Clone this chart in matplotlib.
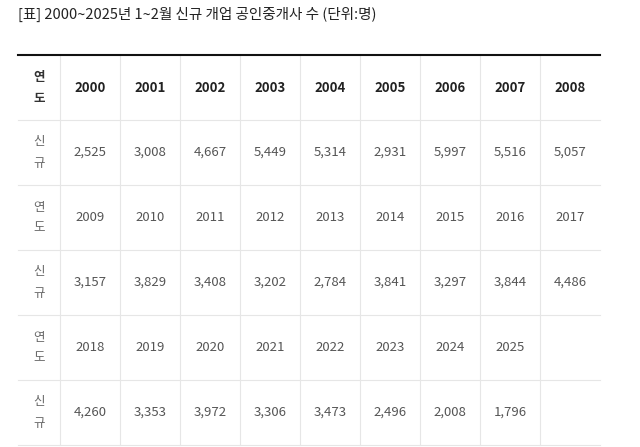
import matplotlib
matplotlib.use("Agg")
import matplotlib.pyplot as plt

plt.rcParams['font.family'] = ['Noto Sans CJK KR', 'DejaVu Sans']

title = "[표] 2000~2025년 1~2월 신규 개업 공인중개사 수 (단위:명)"
years1 = ["2000", "2001", "2002", "2003", "2004", "2005", "2006", "2007", "2008"]
counts1 = ["2,525", "3,008", "4,667", "5,449", "5,314", "2,931", "5,997", "5,516", "5,057"]
years2 = ["2009", "2010", "2011", "2012", "2013", "2014", "2015", "2016", "2017"]
counts2 = ["3,157", "3,829", "3,408", "3,202", "2,784", "3,841", "3,297", "3,844", "4,486"]
years3 = ["2018", "2019", "2020", "2021", "2022", "2023", "2024", "2025", ""]
counts3 = ["4,260", "3,353", "3,972", "3,306", "3,473", "2,496", "2,008", "1,796", ""]

W, H = 640, 447
fig = plt.figure(figsize=(W/100, H/100), dpi=100)
ax = fig.add_axes([0, 0, 1, 1])
ax.set_xlim(0, W); ax.set_ylim(H, 0); ax.axis('off')

ax.text(18, 14, title, fontsize=10.5, va='center', ha='left', color='#222222')

x0, x1 = 18, 600
col_edges = [x0, 60] + [60 + 60*i for i in range(1, 10)]
row_edges = [55, 120, 185, 250, 315, 380, 445]
grid = '#e6e6e6'
for x in col_edges[1:-1]:
    ax.plot([x, x], [row_edges[0], row_edges[-1]], color=grid, lw=0.8)
for y in row_edges[1:]:
    ax.plot([x0, x1], [y, y], color=grid, lw=0.8)
ax.plot([x0, x1], [55, 55], color='#111111', lw=1.5)

rows = [("연\n도", years1, True), ("신\n규", counts1, False),
        ("연\n도", years2, False), ("신\n규", counts2, False),
        ("연\n도", years3, False), ("신\n규", counts3, False)]
for r, (lab, vals, bold) in enumerate(rows):
    yc = (row_edges[r] + row_edges[r+1]) / 2
    ax.text(39, yc, lab, ha='center', va='center', fontsize=9,
            fontweight='bold' if bold else 'normal', color='#333333' if bold else '#666666',
            linespacing=1.8)
    for c, v in enumerate(vals):
        xc = 60 + 60*c + 30
        ax.text(xc, yc, v, ha='center', va='center', fontsize=9.5,
                fontweight='bold' if bold else 'normal',
                color='#222222' if bold else '#555555')

fig.savefig("out.png", dpi=100)
